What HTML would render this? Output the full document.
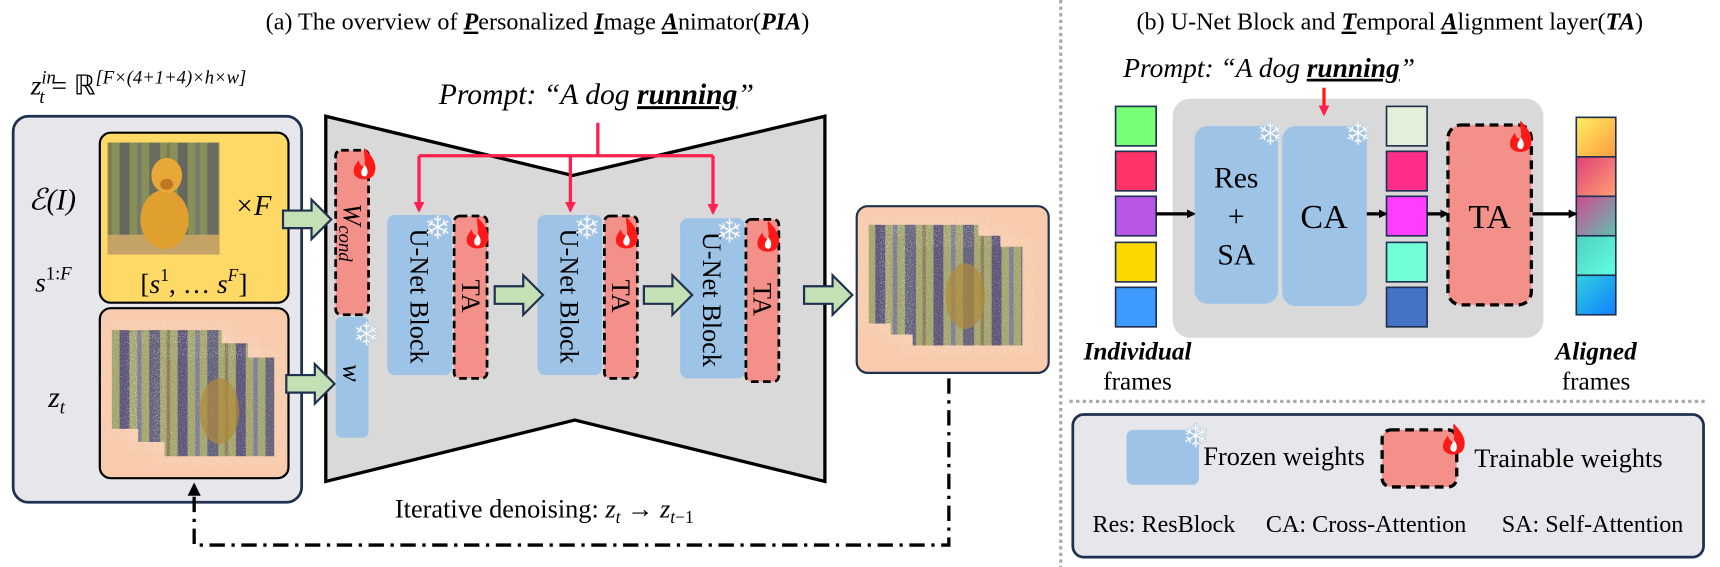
<!DOCTYPE html>
<html><head><meta charset="utf-8"><style>
html,body{margin:0;padding:0;background:#fff;}
svg{display:block;}
text{font-family:"Liberation Serif",serif;}
</style></head><body>
<svg width="1720" height="567" viewBox="0 0 1568 517" preserveAspectRatio="none" xmlns="http://www.w3.org/2000/svg">
<defs>
  <marker id="ah" markerWidth="8" markerHeight="8" refX="6" refY="4" orient="auto" markerUnits="userSpaceOnUse"><path d="M0,0 L8,4 L0,8 z" fill="#000"/></marker>
  <marker id="rh" markerWidth="10" markerHeight="10" refX="8" refY="5" orient="auto" markerUnits="userSpaceOnUse"><path d="M0,0 L10,5 L0,10 z" fill="#ff2050"/></marker>
  <pattern id="forest" width="53" height="100" patternUnits="userSpaceOnUse">
    <rect width="53" height="100" fill="#a3a46c"/>
    <rect x="3" width="9" height="100" fill="#5c5478"/>
    <rect x="19" width="4" height="100" fill="#7a7c94"/>
    <rect x="30" width="10" height="100" fill="#62607a"/>
    <rect x="46" width="3" height="100" fill="#8a7a58"/>
  </pattern>
  <filter id="noise"><feTurbulence type="fractalNoise" baseFrequency="0.9" numOctaves="2" seed="3"/><feColorMatrix values="0 0 0 0 1  0 0 0 0 1  0 0 0 0 1  0 0 0 2.2 -1.1"/></filter>
  <linearGradient id="g1" x1="0" y1="0" x2="1" y2="1"><stop offset="0" stop-color="#ffef60"/><stop offset="1" stop-color="#ff9a40"/></linearGradient>
  <linearGradient id="g2" x1="0" y1="0" x2="1" y2="1"><stop offset="0" stop-color="#e0407a"/><stop offset="1" stop-color="#ffa070"/></linearGradient>
  <linearGradient id="g3" x1="0" y1="0" x2="1" y2="1"><stop offset="0" stop-color="#d04a90"/><stop offset="1" stop-color="#60c0b0"/></linearGradient>
  <linearGradient id="g4" x1="0" y1="0" x2="1" y2="1"><stop offset="0" stop-color="#50d0c0"/><stop offset="1" stop-color="#60ffe0"/></linearGradient>
  <linearGradient id="g5" x1="0" y1="0" x2="1" y2="1"><stop offset="0" stop-color="#30d0e0"/><stop offset="1" stop-color="#1080ff"/></linearGradient>
  <g id="flake"><text style="font-family:'DejaVu Sans',sans-serif" font-size="30" fill="#fff" stroke="#b8cce0" stroke-width="0.6" text-anchor="middle" y="10">❄</text></g>
  <g id="flame"><path d="M0,-22 C10,-12 12,-5 9,2 C6,8 -6,8 -9,2 C-11,-4 -7,-8 -5,-11 C-4,-6 -1,-5 0,-6 C2,-11 -1,-16 0,-22 z" fill="#ff1a1a"/><path d="M0,-7 C4,-3 4,2 1,4 C-3,4 -4,0 -1,-4 z" fill="#fff"/></g>
  <g id="garrow"><path d="M0,-8 L26,-8 L26,-18 L44,0 L26,18 L26,8 L0,8 z" fill="#c5e0b4" stroke="#203050" stroke-width="2"/></g>
</defs>

<!-- titles -->
<text x="490" y="27" font-size="22" text-anchor="middle">(a) The overview of <tspan font-weight="bold" font-style="italic" text-decoration="underline">P</tspan>ersonalized <tspan font-weight="bold" font-style="italic" text-decoration="underline">I</tspan>mage <tspan font-weight="bold" font-style="italic" text-decoration="underline">A</tspan>nimator(<tspan font-weight="bold" font-style="italic">PIA</tspan>)</text>
<text x="1267" y="27" font-size="22" text-anchor="middle">(b) U-Net Block and <tspan font-weight="bold" font-style="italic" text-decoration="underline">T</tspan>emporal <tspan font-weight="bold" font-style="italic" text-decoration="underline">A</tspan>lignment layer(<tspan font-weight="bold" font-style="italic">TA</tspan>)</text>

<!-- separators -->
<line x1="967" y1="0" x2="967" y2="517" stroke="#aaa" stroke-width="3" stroke-dasharray="3,3"/>
<line x1="975" y1="366" x2="1555" y2="366" stroke="#aaa" stroke-width="3" stroke-dasharray="3,3"/>

<!-- formula -->
<text x="28" y="86" font-size="25" font-style="italic">z<tspan font-size="17" dy="-10">in</tspan><tspan font-size="17" dx="-15" dy="18">t</tspan><tspan dy="-8" font-style="normal"> = ℝ</tspan><tspan font-size="17" dy="-10">[F×(4+1+4)×h×w]</tspan></text>

<!-- left outer box -->
<rect x="12" y="106" width="263" height="352" rx="14" fill="#e7e6eb" stroke="#203050" stroke-width="2.5"/>
<rect x="91" y="121" width="172" height="155" rx="10" fill="#ffd966" stroke="#000" stroke-width="2"/>
<rect x="91" y="281" width="172" height="155" rx="10" fill="#f8cbad" stroke="#000" stroke-width="2"/>
<!-- dog image -->
<rect x="98" y="130" width="102" height="102" fill="#6f7a44"/>
<rect x="98" y="130" width="102" height="102" fill="url(#forest)" opacity="0.5"/>
<rect x="98" y="214" width="102" height="18" fill="#c4a466"/>
<ellipse cx="150" cy="200" rx="22" ry="27" fill="#e0a030"/>
<ellipse cx="152" cy="160" rx="14" ry="16" fill="#e8a838"/>
<ellipse cx="152" cy="168" rx="6" ry="5" fill="#c07820"/>
<text x="214" y="196" font-size="26" font-style="italic">×F</text>
<text x="26" y="191" font-size="27" font-style="italic">ℰ(I)</text>
<text x="32" y="266" font-size="25" font-style="italic">s<tspan font-size="17" dy="-11" font-style="normal">1:</tspan><tspan font-size="17" font-style="italic">F</tspan></text>
<text x="128" y="267" font-size="25">[<tspan font-style="italic">s</tspan><tspan font-size="16" dy="-11">1</tspan><tspan dy="11">, … </tspan><tspan font-style="italic">s</tspan><tspan font-size="16" dy="-11" font-style="italic">F</tspan><tspan dy="11">]</tspan></text>
<text x="44" y="371" font-size="27" font-style="italic">z<tspan font-size="17" dy="6">t</tspan></text>
<!-- noisy stacked -->
<g>
<rect x="102" y="301" width="100" height="90" fill="url(#forest)"/><rect x="102" y="301" width="100" height="90" filter="url(#noise)" opacity="0.5"/>
<rect x="126" y="313" width="100" height="90" fill="url(#forest)"/><rect x="126" y="313" width="100" height="90" filter="url(#noise)" opacity="0.5"/>
<rect x="150" y="326" width="100" height="90" fill="url(#forest)"/><rect x="150" y="326" width="100" height="90" filter="url(#noise)" opacity="0.5"/>
<ellipse cx="200" cy="375" rx="18" ry="30" fill="#b08a3a" opacity="0.7"/>
</g>

<!-- trapezoid -->
<path d="M297,106 L522,160 L752,106 L752,439 L524,383 L297,439 z" fill="#d9d9d9" stroke="#000" stroke-width="3"/>
<use href="#garrow" x="258" y="200"/>
<use href="#garrow" x="261" y="350"/>
<!-- Wcond / w -->
<rect x="306" y="137" width="30" height="150" rx="5" fill="#f4908a" stroke="#000" stroke-width="2.5" stroke-dasharray="7,4"/>
<text transform="translate(313,212) rotate(90)" font-size="24" text-anchor="middle" font-style="italic">W<tspan font-size="17" dy="4">cond</tspan></text>
<use href="#flame" x="332" y="157"/>
<rect x="306" y="289" width="30" height="110" rx="5" fill="#9dc3e6"/>
<text transform="translate(313,340) rotate(90)" font-size="24" text-anchor="middle" font-style="italic">w</text>
<use href="#flake" x="334" y="305"/>

<!-- unet blocks -->
<g font-size="24">
<rect x="353" y="196" width="59" height="146" rx="7" fill="#9dc3e6"/>
<rect x="414" y="197" width="30" height="148" rx="5" fill="#f4908a" stroke="#000" stroke-width="2.5" stroke-dasharray="7,4"/>
<text transform="translate(374,270) rotate(90)" text-anchor="middle">U-Net Block</text>
<text transform="translate(421,270) rotate(90)" text-anchor="middle">TA</text>
<use href="#flake" x="399" y="208"/><use href="#flame" x="435" y="220"/>

<rect x="490" y="196" width="59" height="146" rx="7" fill="#9dc3e6"/>
<rect x="551" y="197" width="30" height="148" rx="5" fill="#f4908a" stroke="#000" stroke-width="2.5" stroke-dasharray="7,4"/>
<text transform="translate(511,270) rotate(90)" text-anchor="middle">U-Net Block</text>
<text transform="translate(558,270) rotate(90)" text-anchor="middle">TA</text>
<use href="#flake" x="535" y="208"/><use href="#flame" x="571" y="220"/>

<rect x="620" y="199" width="59" height="146" rx="7" fill="#9dc3e6"/>
<rect x="680" y="200" width="30" height="148" rx="5" fill="#f4908a" stroke="#000" stroke-width="2.5" stroke-dasharray="7,4"/>
<text transform="translate(641,273) rotate(90)" text-anchor="middle">U-Net Block</text>
<text transform="translate(687,273) rotate(90)" text-anchor="middle">TA</text>
<use href="#flake" x="665" y="211"/><use href="#flame" x="700" y="223"/>
</g>
<use href="#garrow" x="451" y="269"/>
<use href="#garrow" x="587" y="269"/>
<use href="#garrow" x="733" y="269"/>

<!-- prompt red lines -->
<g stroke="#ff2050" stroke-width="3" fill="none">
<path d="M545,112 L545,142"/>
<path d="M382,142 L650,142"/>
<path d="M382,142 L382,192" marker-end="url(#rh)"/>
<path d="M520,142 L520,192" marker-end="url(#rh)"/>
<path d="M650,142 L650,194" marker-end="url(#rh)"/>
</g>
<text x="400" y="95" font-size="27" font-style="italic">Prompt: “A dog <tspan font-weight="bold" text-decoration="underline">running</tspan>”</text>

<!-- output box -->
<rect x="781" y="188" width="175" height="152" rx="10" fill="#f8cbad" stroke="#203050" stroke-width="2"/>
<rect x="792" y="205" width="100" height="90" fill="url(#forest)"/><rect x="792" y="205" width="100" height="90" filter="url(#noise)" opacity="0.5"/>
<rect x="812" y="215" width="100" height="90" fill="url(#forest)"/><rect x="812" y="215" width="100" height="90" filter="url(#noise)" opacity="0.5"/>
<rect x="832" y="225" width="100" height="90" fill="url(#forest)"/><rect x="832" y="225" width="100" height="90" filter="url(#noise)" opacity="0.5"/>
<ellipse cx="880" cy="270" rx="18" ry="30" fill="#b08a3a" opacity="0.7"/>

<!-- dash-dot loop -->
<path d="M865,345 L865,497 L177,497 L177,452" fill="none" stroke="#000" stroke-width="3" stroke-dasharray="14,6,3,6"/>
<path d="M171,452 L183,452 L177,440 z" fill="#000"/>
<text x="360" y="472" font-size="24">Iterative denoising: <tspan font-style="italic">z</tspan><tspan font-size="16" dy="5" font-style="italic">t</tspan><tspan dy="-5"> → </tspan><tspan font-style="italic">z</tspan><tspan font-size="16" dy="5" font-style="italic">t</tspan><tspan font-size="16">−1</tspan></text>

<!-- RIGHT PANEL -->
<text x="1024" y="70" font-size="25" font-style="italic">Prompt: “A dog <tspan font-weight="bold" text-decoration="underline">running</tspan>”</text>
<rect x="1069" y="90" width="338" height="218" rx="16" fill="#d9d9d9"/>
<g stroke="#203050" stroke-width="1.5">
<rect x="1017" y="97" width="37" height="36" fill="#77ff77"/>
<rect x="1017" y="138" width="37" height="36" fill="#ff3366"/>
<rect x="1017" y="179" width="37" height="36" fill="#b956e8"/>
<rect x="1017" y="221" width="37" height="36" fill="#ffd700"/>
<rect x="1017" y="262" width="37" height="36" fill="#3d9bff"/>
<rect x="1264" y="97" width="37" height="36" fill="#e2efd9"/>
<rect x="1264" y="138" width="37" height="36" fill="#ff2d8a"/>
<rect x="1264" y="179" width="37" height="36" fill="#ff3dff"/>
<rect x="1264" y="221" width="37" height="36" fill="#72ffd8"/>
<rect x="1264" y="262" width="37" height="36" fill="#4472c4"/>
<rect x="1437" y="107" width="36" height="36" fill="url(#g1)"/>
<rect x="1437" y="143" width="36" height="36" fill="url(#g2)"/>
<rect x="1437" y="179" width="36" height="36" fill="url(#g3)"/>
<rect x="1437" y="215" width="36" height="36" fill="url(#g4)"/>
<rect x="1437" y="251" width="36" height="36" fill="url(#g5)"/>
</g>
<rect x="1089" y="115" width="76" height="162" rx="12" fill="#9dc3e6"/>
<rect x="1169" y="115" width="77" height="164" rx="12" fill="#9dc3e6"/>
<rect x="1320" y="114" width="76" height="164" rx="12" fill="#f4908a" stroke="#000" stroke-width="3" stroke-dasharray="8,5"/>
<text x="1127" y="171" font-size="27" text-anchor="middle">Res</text>
<text x="1127" y="206" font-size="27" text-anchor="middle">+</text>
<text x="1127" y="241" font-size="27" text-anchor="middle">SA</text>
<text x="1207" y="208" font-size="31" text-anchor="middle">CA</text>
<text x="1358" y="208" font-size="31" text-anchor="middle">TA</text>
<use href="#flake" x="1158" y="122"/><use href="#flake" x="1238" y="122"/>
<use href="#flame" x="1386" y="132"/>
<path d="M1207,80 L1207,104" stroke="#ff1a1a" stroke-width="3" marker-end="url(#rh)"/>
<g stroke="#000" stroke-width="3" marker-end="url(#ah)">
<line x1="1054" y1="195" x2="1088" y2="195"/>
<line x1="1246" y1="195" x2="1263" y2="195"/>
<line x1="1301" y1="195" x2="1319" y2="195"/>
<line x1="1397" y1="195" x2="1436" y2="195"/>
</g>
<text x="1037" y="328" font-size="23" text-anchor="middle" font-weight="bold" font-style="italic">Individual</text>
<text x="1037" y="355" font-size="23" text-anchor="middle">frames</text>
<text x="1455" y="328" font-size="23" text-anchor="middle" font-weight="bold" font-style="italic">Aligned</text>
<text x="1455" y="355" font-size="23" text-anchor="middle">frames</text>

<!-- legend -->
<rect x="978" y="378" width="575" height="130" rx="10" fill="#e7e6eb" stroke="#203050" stroke-width="2.5"/>
<rect x="1027" y="392" width="66" height="50" rx="6" fill="#9dc3e6"/>
<use href="#flake" x="1090" y="398"/>
<text x="1097" y="424" font-size="24">Frozen weights</text>
<rect x="1260" y="392" width="68" height="52" rx="8" fill="#f4908a" stroke="#000" stroke-width="3" stroke-dasharray="8,5"/>
<use href="#flame" x="1325" y="408"/>
<text x="1344" y="426" font-size="24">Trainable weights</text>
<text x="996" y="485" font-size="22">Res: ResBlock</text>
<text x="1154" y="485" font-size="22">CA: Cross-Attention</text>
<text x="1369" y="485" font-size="22">SA: Self-Attention</text>
</svg>
</body></html>
